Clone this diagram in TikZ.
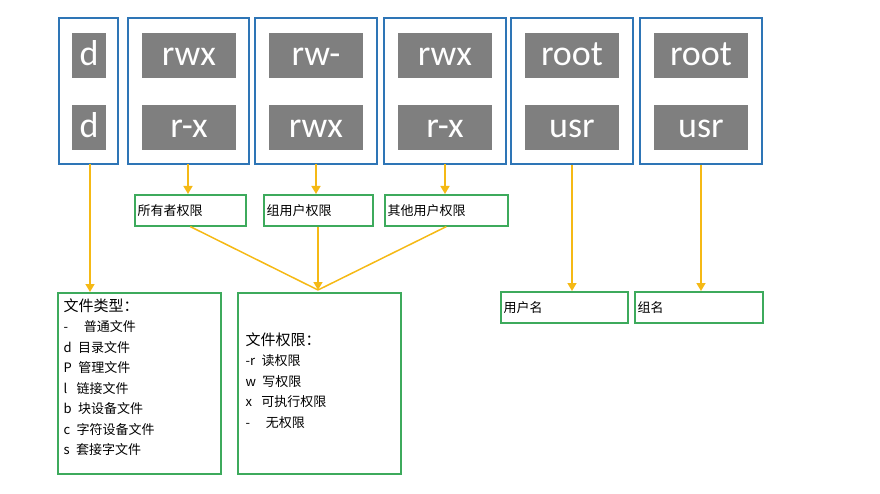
\documentclass[tikz,border=0pt]{standalone}
\usepackage{fontspec}
\setmainfont{Carlito}
\newfontfamily\cjk{Noto Sans CJK SC}
\usetikzlibrary{arrows.meta}
\definecolor{bl}{HTML}{2E75B6}
\definecolor{gr}{HTML}{3DAA5C}
\definecolor{gy}{HTML}{7F7F7F}
\definecolor{ar}{HTML}{F5B915}
\tikzset{
 outer/.style={draw=bl,line width=1.8pt,minimum height=146pt,inner sep=0pt},
 grey/.style={fill=gy,text=white,inner sep=0pt,text height=33pt,text depth=12pt,font=\fontsize{36}{36}\selectfont},
 gbox/.style={draw=gr,line width=1.6pt,inner sep=0pt,anchor=north west},
 lab/.style={anchor=west,font=\cjk\fontsize{13}{14}\selectfont},
 con/.style={draw=ar,line width=1.5pt},
 arr/.style={con,-{Triangle[width=9pt,length=8pt]}}
}
\begin{document}
\begin{tikzpicture}[x=1pt,y=-1pt]
\useasboundingbox (0,0) rectangle (880,494);
\node[outer,minimum width=59pt] (o1) at (88.5,91) {};
\node[outer,minimum width=121pt] (o2) at (188.5,91) {};
\node[outer,minimum width=122pt] (o3) at (316,91) {};
\node[outer,minimum width=122pt] (o4) at (445,91) {};
\node[outer,minimum width=122pt] (o5) at (572,91) {};
\node[outer,minimum width=122pt] (o6) at (701,91) {};
\foreach \n/\x/\w/\a/\b in {g1/89/34/d/d,g2/189/94/rwx/r-x,g3/316/94/rw-/rwx,g4/445/94/rwx/r-x,g5/572/94/root/usr,g6/701/94/root/usr}{
 \node[grey,minimum width=\w pt] (\n a) at (\x,55.5) {\a};
 \node[grey,minimum width=\w pt] (\n b) at (\x,127.5) {\b};
}
\node[gbox,minimum width=111pt,minimum height=31pt] (p1) at (134,194) {};
\node[lab] (t1) at (p1.west) {所有者权限};
\node[gbox,minimum width=109pt,minimum height=31pt] (p2) at (263,194) {};
\node[lab] (t2) at (p2.west) {组用户权限};
\node[gbox,minimum width=123pt,minimum height=31pt] (p3) at (384,194) {};
\node[lab] (t3) at (p3.west) {其他用户权限};
\node[gbox,minimum width=127pt,minimum height=31pt] (u1) at (500,291) {};
\node[lab] (tu1) at (u1.west) {用户名};
\node[gbox,minimum width=128pt,minimum height=31pt] (u2) at (634,291) {};
\node[lab] (tu2) at (u2.west) {组名};
\node[gbox,minimum width=163pt,minimum height=181pt] (b1) at (57,292) {};
\node[anchor=north west,align=left,font=\cjk\fontsize{13}{20.5}\selectfont] (tb1) at (60,295) {{\fontsize{15}{20.5}\selectfont 文件类型：}\\
-\quad\ 普通文件\\ d\enspace 目录文件\\ P\enspace 管理文件\\ l\enspace\ 链接文件\\ b\enspace 块设备文件\\ c\enspace 字符设备文件\\ s\enspace 套接字文件};
\node[gbox,minimum width=163pt,minimum height=181pt] (b2) at (237,292) {};
\node[anchor=north west,align=left,font=\cjk\fontsize{13}{20.5}\selectfont] (tb2) at (242,329) {{\fontsize{15}{20.5}\selectfont 文件权限：}\\
-r\enspace 读权限\\ w\enspace 写权限\\ x\enspace\ 可执行权限\\ -\quad\ 无权限};
\coordinate (m) at (318,290);
\coordinate (a1) at (90,164);
\draw[arr] (a1) -- (a1 |- b1.north);
\draw[arr] (188,164) -- (188,194);
\draw[arr] (316,164) -- (316,194);
\draw[arr] (445,164) -- (445,194);
\draw[arr] (o5.south) -- (u1.north -| o5.south);
\draw[arr] (o6.south) -- (u2.north -| o6.south);
\draw[con] (p1.south) -- (m);
\draw[con] (p3.south) -- (m);
\draw[arr] (p2.south -| m) -- (m);
\end{tikzpicture}
\end{document}
